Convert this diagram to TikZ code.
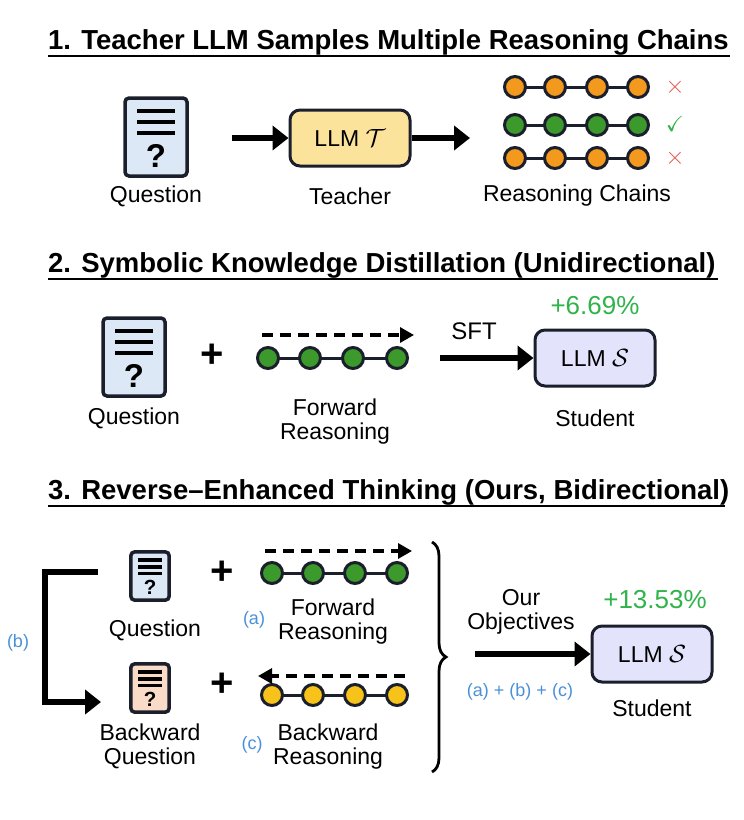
\documentclass[tikz,border=0pt]{standalone}
\usepackage{amssymb}
\usepackage{fontspec}
\setmainfont{Liberation Sans}
\usetikzlibrary{arrows.meta,decorations.pathreplacing}
\definecolor{docblue}{HTML}{DCE8F5}
\definecolor{docpeach}{HTML}{FADBC8}
\definecolor{tchyel}{HTML}{FCE39B}
\definecolor{stulav}{HTML}{E3E3FB}
\definecolor{chorange}{HTML}{F39A1E}
\definecolor{chgreen}{HTML}{3C9A2C}
\definecolor{chgold}{HTML}{F7C21A}
\definecolor{gainred}{HTML}{E35A4F}
\definecolor{gaingreen}{HTML}{2FB34A}
\definecolor{tagblue}{HTML}{4A90D9}
\definecolor{ink}{HTML}{1A1F2B}
\tikzset{
  title/.style={font=\bfseries\fontsize{27.5}{30}\selectfont,anchor=base west,inner sep=0pt},
  lbl/.style={font=\fontsize{23}{26}\selectfont,align=center},
  tag/.style={font=\fontsize{18}{20}\selectfont,text=tagblue},
  gain/.style={font=\fontsize{26}{28}\selectfont,text=gaingreen},
  llm/.style={draw=ink,line width=3pt,rounded corners=10pt,minimum width=120pt,
    minimum height=56pt,font=\fontsize{23}{26}\selectfont},
  bead/.style={circle,draw=ink,line width=3pt,minimum size=21pt,inner sep=0pt},
  link/.style={draw=ink,line width=3pt},
  bigarrow/.style={line width=6.5pt,-{Triangle[length=16pt,width=24pt]}},
  dasharrow/.style={line width=3.2pt,dash pattern=on 11pt off 7pt,-{Triangle[length=14pt,width=15pt]}},
  plus/.style={font=\bfseries\fontsize{40}{40}\selectfont},
}
% document icon: name, position, scale, fill
\newcommand{\qdoc}[4]{%
  \begin{scope}[shift={#2},scale=#3]
    \node[draw=ink,line width=3.5pt,rounded corners=4pt,fill=#4,minimum width=#3*62pt,
      minimum height=#3*78pt,inner sep=0pt] (#1) at (0,0) {};
    \foreach \ly in {-26,-15,-4} \draw[line width=3.8pt] (-19,\ly) -- (19,\ly);
    \node[transform shape,font=\bfseries\fontsize{33}{33}\selectfont] (#1q) at (0,19) {?};
  \end{scope}}
% bead chain: prefix, y, colour, x values
\newcommand{\chain}[4]{%
  \foreach \bx [count=\bi] in {#4} \coordinate (#1\bi) at (\bx,#2);
  \draw[link] (#11) -- (#14);
  \foreach \bi in {1,...,4} \node[bead,fill=#3] (#1n\bi) at (#1\bi) {};}
\begin{document}
\begin{tikzpicture}[x=1pt,y=-1pt]
\useasboundingbox (0,0) rectangle (744,820);

% section 1
\node[title] (t1) at (48,49) {1. Teacher LLM Samples Multiple Reasoning Chains};
\draw[line width=1.8pt] (48,56) -- (730,56);
\qdoc{d1}{(156,137)}{1}{docblue}
\node[lbl] (d1l) at (156,196) {Question};
\node[llm,fill=tchyel] (tch) at (350,138) {LLM $\mathcal{T}$};
\node[lbl] (tchl) at (350,196) {Teacher};
\coordinate (c0) at (232,138);
\draw[bigarrow] (c0) -- (tch.west);
\coordinate (c1) at (470,138);
\draw[bigarrow] (tch.east) -- (c1);
\chain{ra}{87}{chorange}{515,555,597,638}
\chain{rb}{125}{chgreen}{515,555,597,638}
\chain{rc}{158}{chorange}{515,555,597,638}
\node[text=gainred,font=\fontsize{28}{28}\selectfont] (xa) at (675,87) {$\times$};
\node[text=gaingreen,font=\fontsize{22}{22}\selectfont] (ok) at (675,124) {$\checkmark$};
\node[text=gainred,font=\fontsize{28}{28}\selectfont] (xc) at (675,158) {$\times$};
\node[lbl] (chl) at (577,196) {Reasoning Chains};

% section 2
\node[title] (t2) at (48,272) {2. Symbolic Knowledge Distillation (Unidirectional)};
\draw[line width=1.8pt] (48,279) -- (718,279);
\qdoc{d2}{(134,357)}{1}{docblue}
\node[lbl] (d2l) at (134,418) {Question};
\node[plus] (p2) at (212,356) {+};
\chain{fw}{358}{chgreen}{268,310,353,397}
\coordinate (fa) at (262,335); \coordinate (fb) at (414,335);
\draw[dasharrow] (fa) -- (fb);
\node[lbl] (fwl) at (335,422) {Forward\\[-2pt]Reasoning};
\node[llm,fill=stulav] (st2) at (595,358) {LLM $\mathcal{S}$};
\coordinate (s2) at (440,358);
\draw[bigarrow] (s2) -- (st2.west);
\node[lbl,font=\fontsize{24}{26}\selectfont] (sft) at (474,331) {SFT};
\node[gain] (g2) at (595,306) {+6.69\%};
\node[lbl] (st2l) at (595,418) {Student};

% section 3
\node[title] (t3) at (48,499) {3. Reverse–Enhanced Thinking (Ours, Bidirectional)};
\draw[line width=1.8pt] (48,506) -- (725,506);
\qdoc{d3}{(150,576)}{0.62}{docblue}
\node[lbl] (d3l) at (155,630) {Question};
\qdoc{d4}{(150,688)}{0.62}{docpeach}
\node[lbl] (d4l) at (150,746) {Backward\\[-2pt]Question};
\coordinate (ba) at (98,572); \coordinate (bb) at (101,702);
\draw[line width=6.5pt,-{Triangle[length=16pt,width=24pt]}] (ba) -| (45,702) -- (bb);
\node[tag] (tb) at (18,643) {(b)};
\node[plus] (p3) at (222,573) {+};
\node[plus] (p4) at (222,685) {+};
\chain{gf}{573}{chgreen}{272,313,355,397}
\coordinate (ga) at (265,551); \coordinate (gb) at (412,551);
\draw[dasharrow] (ga) -- (gb);
\chain{gb}{695}{chgold}{272,313,355,397}
\coordinate (gc) at (405,676); \coordinate (gd) at (258,676);
\draw[dasharrow] (gc) -- (gd);
\node[lbl] (gfl) at (333,622) {Forward\\[-2pt]Reasoning};
\node[tag] (ta) at (254,620) {(a)};
\node[lbl] (gbl) at (328,747) {Backward\\[-2pt]Reasoning};
\node[tag] (tc) at (252,745) {(c)};
\coordinate (br1) at (432,542); \coordinate (br2) at (432,772);
\draw[line width=2.8pt,decorate,decoration={brace,amplitude=14pt}] (br1) -- (br2);
\node[lbl] (obj) at (521,612) {Our\\[-2pt]Objectives};
\node[llm,fill=stulav] (st3) at (652,654) {LLM $\mathcal{S}$};
\coordinate (s3) at (475,654);
\draw[bigarrow] (s3) -- (st3.west);
\node[tag] (tall) at (520,692) {(a) + (b) + (c)};
\node[gain] (g3) at (655,600) {+13.53\%};
\node[lbl] (st3l) at (652,708) {Student};
\end{tikzpicture}
\end{document}
